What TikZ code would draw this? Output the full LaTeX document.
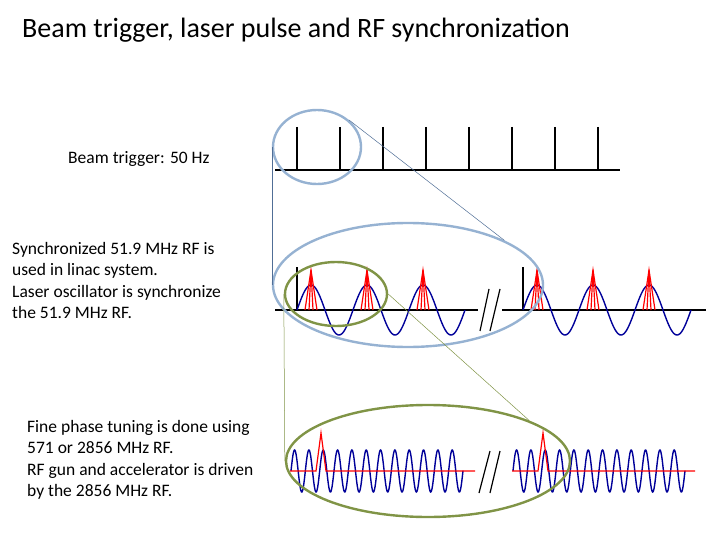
\documentclass[tikz,border=0pt]{standalone}
\usepackage{fontspec}
\setmainfont{Carlito}
\usetikzlibrary{shapes.geometric}
\definecolor{ellblue}{RGB}{150,178,210}
\definecolor{ellgreen}{RGB}{128,148,70}
\definecolor{lnblue}{RGB}{80,110,150}
\begin{document}
\begin{tikzpicture}[x=1pt,y=-1pt,
  lbl/.style={anchor=west,font=\fontsize{17.5}{21.5}\selectfont,align=left,inner sep=0pt},
  axis/.style={black,line width=1.6pt},
  wave/.style={blue!60!black,line width=1.4pt},
  pulse/.style={red,line width=1.2pt},
  blueell/.style={draw=ellblue,line width=2.4pt},
  greenell/.style={draw=ellgreen,line width=2.4pt},
  bline/.style={draw=lnblue,line width=0.5pt},
  gline/.style={draw=ellgreen,line width=0.5pt}]
\useasboundingbox (0,0) rectangle (720,540);
\node[anchor=west,font=\fontsize{28}{32}\selectfont,inner sep=0pt] (title) at (22,30) {Beam trigger, laser pulse and RF synchronization};
\node[lbl] (t1) at (68,159) {Beam trigger: 50 Hz};
\node[lbl,anchor=north west] (t2) at (12,242) {Synchronized 51.9 MHz RF is\\used in linac system.\\Laser oscillator is synchronize\\the 51.9 MHz RF.};
\node[lbl,anchor=north west] (t3) at (27,420) {Fine phase tuning is done using\\571 or 2856 MHz RF.\\RF gun and accelerator is driven\\by the 2856 MHz RF.};
% top row
\draw[axis] (275,170) -- (620,170);
\foreach \x in {297,340,383,426,469,512,555,598} \draw[axis] (\x,127) -- (\x,170);
% middle row
\draw[axis] (275,310) -- (478,310);
\draw[axis] (502,310) -- (706,310);
\draw[axis] (297,267) -- (297,310);
\draw[axis] (523,267) -- (523,310);
\draw[wave] plot[domain=0:168,samples=150] ({\x+297},{310-25*sin(\x/56*360)});
\draw[wave] plot[domain=0:168,samples=150] ({\x+523},{310-25*sin(\x/56*360)});
\foreach \c in {311,367,423,537,593,649}{
  \draw[pulse] (\c-6,310) -- (\c,270) -- (\c+6,310);
  \draw[pulse] (\c-2,310) -- (\c,270) -- (\c+2,310);
}
\draw[axis,line width=1.2pt] (480,331) -- (489,289);
\draw[axis,line width=1.2pt] (490,331) -- (500,289);
% bottom row
\draw[wave] plot[domain=0:172,samples=400] ({\x+291},{471-21*sin(\x/14.33*360)});
\draw[wave] plot[domain=0:172,samples=400] ({\x+513},{471-21*sin(\x/14.33*360)});
\draw[pulse] (290,471) -- (316,471) -- (321,433) -- (326,471) -- (475,471);
\draw[pulse] (512,471) -- (538,471) -- (543,433) -- (548,471) -- (695,471);
\draw[axis,line width=1.2pt] (479,493) -- (490,451);
\draw[axis,line width=1.2pt] (490,493) -- (500,451);
% ellipses
\node[blueell,shape=ellipse,minimum width=88pt,minimum height=74pt,inner sep=0pt] (e1) at (317,147) {};
\node[blueell,shape=ellipse,minimum width=270pt,minimum height=124pt,inner sep=0pt] (e2) at (408,285) {};
\node[greenell,shape=ellipse,minimum width=102pt,minimum height=64pt,inner sep=0pt] (e3) at (336,294) {};
\node[greenell,shape=ellipse,minimum width=284pt,minimum height=112pt,inner sep=0pt] (e4) at (428,461) {};
% connectors
\draw[bline] (e1.west) -- (e2.west);
\draw[bline] (e1.north east) -- (e2.north east);
\draw[gline] (e3.west) -- (e4.west);
\draw[gline] (e3.east) -- (e4.north east);
\end{tikzpicture}
\end{document}
